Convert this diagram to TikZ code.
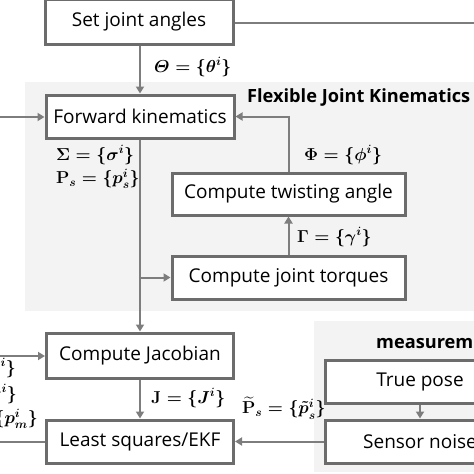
\documentclass[tikz,border=0pt]{standalone}
\usepackage{amsmath}
\usepackage{bm}
\usepackage{fontspec}
\setmainfont{Open Sans}
\usetikzlibrary{arrows.meta}
\definecolor{boxline}{RGB}{108,108,108}
\definecolor{conn}{RGB}{125,125,125}
\definecolor{panel}{RGB}{243,243,243}
\tikzset{
  blk/.style={draw=boxline, line width=3pt, fill=white, minimum height=43pt, inner sep=0pt, anchor=center, font=\fontsize{19}{21}\selectfont},
  cn/.style={draw=conn, line width=2pt},
  arr/.style={cn, -{Triangle[length=7pt,width=8pt]}},
  lab/.style={inner sep=0pt, font=\fontsize{16.5}{18}\selectfont\boldmath},
  ttl/.style={inner sep=0pt, font=\fontsize{18.2}{20}\selectfont\bfseries},
}
\begin{document}
\begin{tikzpicture}[x=1pt,y=-1pt]
\useasboundingbox (0,0) rectangle (474,474);
\clip (0,0) rectangle (474,474);
% panels
\fill[panel] (25,82) rectangle (490,311);
\fill[panel] (314,321) rectangle (490,472);
\node[ttl, anchor=west] (fjkt) at (247,97) {Flexible Joint Kinematics};
\node[ttl, anchor=west] (meast) at (376,343) {measurement};
% boxes
\node[blk, minimum width=188pt, minimum height=45pt] (sja) at (139,21.5) {Set joint angles};
\node[blk, minimum width=188pt] (fk) at (140,116.5) {Forward kinematics};
\node[blk, minimum width=233pt, minimum height=42pt] (cta) at (288.5,194) {Compute twisting angle};
\node[blk, minimum width=233pt] (cjt) at (288.5,277.5) {Compute joint torques};
\node[blk, minimum width=187pt, minimum height=45pt] (cj) at (140,355.5) {Compute Jacobian};
\node[blk, minimum width=187pt] (ls) at (140,441.5) {Least squares/EKF};
\node[blk, minimum width=190pt] (tp) at (420,381.5) {True pose};
\node[blk, minimum width=190pt] (sn) at (420,441.5) {Sensor noise};
% free ends
\coordinate (outR) at (480,23);
\coordinate (inFK) at (-5,117);
\coordinate (inCJ) at (-5,356);
\coordinate (outLS) at (-5,441.5);
% connectors
\draw[cn] (sja.east |- outR) -- (outR);
\draw[arr] (sja.south -| fk.north) -- (fk.north);
\draw[arr] (inFK) -- (fk.west |- inFK);
\draw[arr] (cta.north) |- (fk.east);
\draw[arr] (cjt.north) -- (cta.south);
\draw[arr] (fk.south) -- (cj.north);
\draw[arr] (fk.south |- cjt.west) -- (cjt.west);
\draw[arr] (inCJ) -- (cj.west |- inCJ);
\draw[arr] (cj.south) -- (ls.north);
\draw[cn] (ls.west) -- (outLS);
\draw[arr] (sn.west) -- (ls.east);
\draw[arr] (tp.south) -- (sn.north);
% labels
\node[lab, anchor=west] (lth) at (154,67) {$\bm{\varTheta} = \{\bm{\theta}^i\}$};
\node[lab, anchor=west] (lsi) at (56,155) {$\bm{\Sigma} = \{\bm{\sigma}^i\}$};
\node[lab, anchor=west] (lps) at (56,179) {$\mathbf{P}_s = \{\bm{p}_s^i\}$};
\node[lab, anchor=west] (lphi) at (304,155) {$\bm{\Phi} = \{\bm{\phi}^i\}$};
\node[lab, anchor=west] (lga) at (297,237) {$\bm{\Gamma} = \{\bm{\gamma}^i\}$};
\node[lab, anchor=west] (lj) at (151,398) {$\mathbf{J} = \{\bm{J}^i\}$};
\node[lab, anchor=west] (lpt) at (242,408) {$\widetilde{\mathbf{P}}_s = \{\tilde{\bm{p}}_s^i\}$};
\node[lab, anchor=east] (lth2) at (16,368) {$\bm{\varTheta} = \{\bm{\theta}^i\}$};
\node[lab, anchor=east] (lsi2) at (17,394) {$\bm{\Sigma} = \{\bm{\sigma}^i\}$};
\node[lab, anchor=east] (lpm) at (38,419) {$\mathbf{P}_m = \{\bm{p}_m^i\}$};
\end{tikzpicture}
\end{document}
